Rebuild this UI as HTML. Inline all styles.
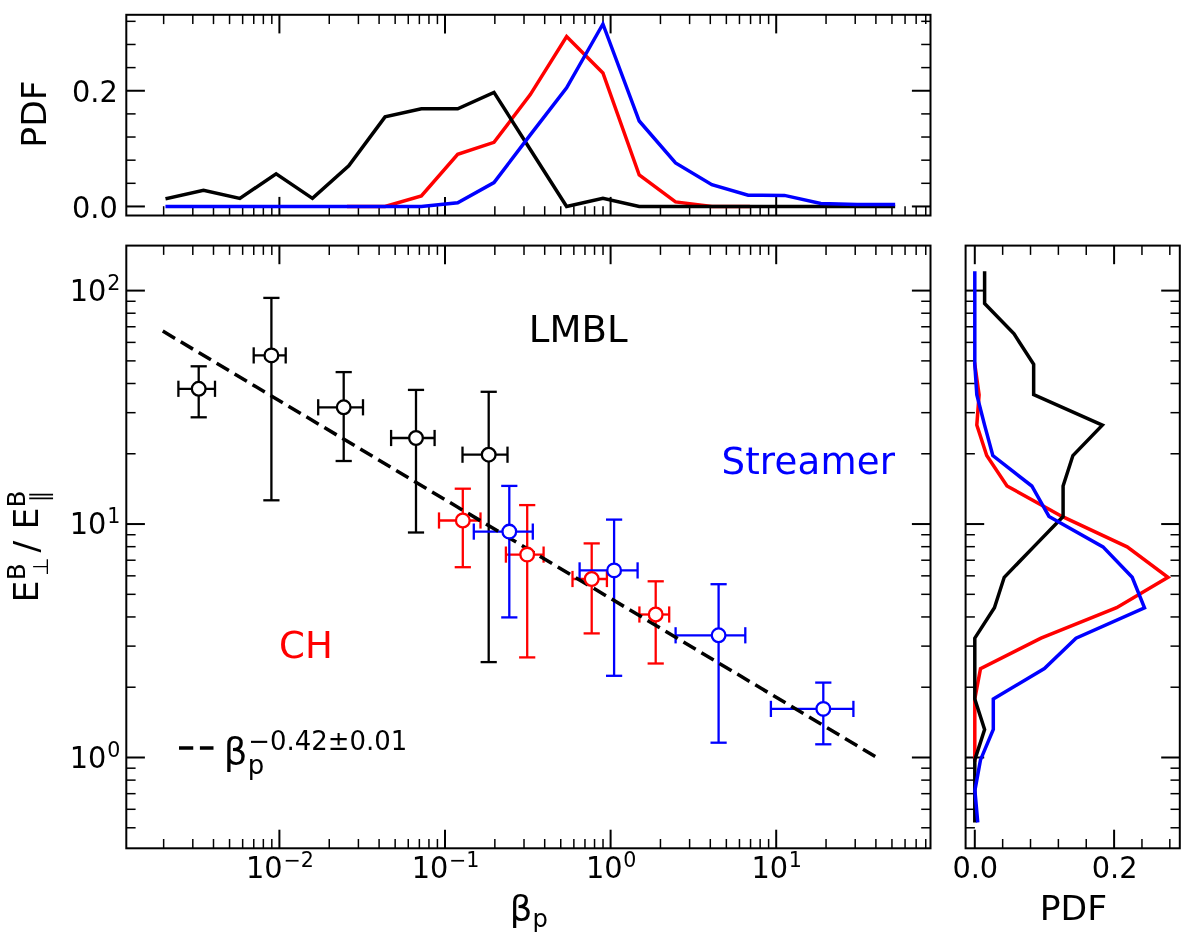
<!DOCTYPE html>
<html lang="en">
<head>
<meta charset="utf-8">
<title>Anisotropy versus plasma beta</title>
<style>
html,body{margin:0;padding:0;background:#fff;}
body{width:1195px;height:940px;overflow:hidden;}
svg{display:block;}
</style>
</head>
<body>
<svg width="1195" height="940" viewBox="0 0 1195 940" font-family='"DejaVu Sans", "Liberation Sans", sans-serif'>
<rect width="1195" height="940" fill="#fff"/>
<g id="top-panel">
<line x1="279.40" y1="215.50" x2="279.40" y2="196.90" stroke="#000" stroke-width="2.0"/>
<line x1="279.40" y1="14.80" x2="279.40" y2="33.40" stroke="#000" stroke-width="2.0"/>
<line x1="445.00" y1="215.50" x2="445.00" y2="196.90" stroke="#000" stroke-width="2.0"/>
<line x1="445.00" y1="14.80" x2="445.00" y2="33.40" stroke="#000" stroke-width="2.0"/>
<line x1="610.60" y1="215.50" x2="610.60" y2="196.90" stroke="#000" stroke-width="2.0"/>
<line x1="610.60" y1="14.80" x2="610.60" y2="33.40" stroke="#000" stroke-width="2.0"/>
<line x1="776.20" y1="215.50" x2="776.20" y2="196.90" stroke="#000" stroke-width="2.0"/>
<line x1="776.20" y1="14.80" x2="776.20" y2="33.40" stroke="#000" stroke-width="2.0"/>
<line x1="163.65" y1="215.50" x2="163.65" y2="206.20" stroke="#000" stroke-width="1.5"/>
<line x1="163.65" y1="14.80" x2="163.65" y2="24.10" stroke="#000" stroke-width="1.5"/>
<line x1="192.81" y1="215.50" x2="192.81" y2="206.20" stroke="#000" stroke-width="1.5"/>
<line x1="192.81" y1="14.80" x2="192.81" y2="24.10" stroke="#000" stroke-width="1.5"/>
<line x1="213.50" y1="215.50" x2="213.50" y2="206.20" stroke="#000" stroke-width="1.5"/>
<line x1="213.50" y1="14.80" x2="213.50" y2="24.10" stroke="#000" stroke-width="1.5"/>
<line x1="229.55" y1="215.50" x2="229.55" y2="206.20" stroke="#000" stroke-width="1.5"/>
<line x1="229.55" y1="14.80" x2="229.55" y2="24.10" stroke="#000" stroke-width="1.5"/>
<line x1="242.66" y1="215.50" x2="242.66" y2="206.20" stroke="#000" stroke-width="1.5"/>
<line x1="242.66" y1="14.80" x2="242.66" y2="24.10" stroke="#000" stroke-width="1.5"/>
<line x1="253.75" y1="215.50" x2="253.75" y2="206.20" stroke="#000" stroke-width="1.5"/>
<line x1="253.75" y1="14.80" x2="253.75" y2="24.10" stroke="#000" stroke-width="1.5"/>
<line x1="263.35" y1="215.50" x2="263.35" y2="206.20" stroke="#000" stroke-width="1.5"/>
<line x1="263.35" y1="14.80" x2="263.35" y2="24.10" stroke="#000" stroke-width="1.5"/>
<line x1="271.82" y1="215.50" x2="271.82" y2="206.20" stroke="#000" stroke-width="1.5"/>
<line x1="271.82" y1="14.80" x2="271.82" y2="24.10" stroke="#000" stroke-width="1.5"/>
<line x1="329.25" y1="215.50" x2="329.25" y2="206.20" stroke="#000" stroke-width="1.5"/>
<line x1="329.25" y1="14.80" x2="329.25" y2="24.10" stroke="#000" stroke-width="1.5"/>
<line x1="358.41" y1="215.50" x2="358.41" y2="206.20" stroke="#000" stroke-width="1.5"/>
<line x1="358.41" y1="14.80" x2="358.41" y2="24.10" stroke="#000" stroke-width="1.5"/>
<line x1="379.10" y1="215.50" x2="379.10" y2="206.20" stroke="#000" stroke-width="1.5"/>
<line x1="379.10" y1="14.80" x2="379.10" y2="24.10" stroke="#000" stroke-width="1.5"/>
<line x1="395.15" y1="215.50" x2="395.15" y2="206.20" stroke="#000" stroke-width="1.5"/>
<line x1="395.15" y1="14.80" x2="395.15" y2="24.10" stroke="#000" stroke-width="1.5"/>
<line x1="408.26" y1="215.50" x2="408.26" y2="206.20" stroke="#000" stroke-width="1.5"/>
<line x1="408.26" y1="14.80" x2="408.26" y2="24.10" stroke="#000" stroke-width="1.5"/>
<line x1="419.35" y1="215.50" x2="419.35" y2="206.20" stroke="#000" stroke-width="1.5"/>
<line x1="419.35" y1="14.80" x2="419.35" y2="24.10" stroke="#000" stroke-width="1.5"/>
<line x1="428.95" y1="215.50" x2="428.95" y2="206.20" stroke="#000" stroke-width="1.5"/>
<line x1="428.95" y1="14.80" x2="428.95" y2="24.10" stroke="#000" stroke-width="1.5"/>
<line x1="437.42" y1="215.50" x2="437.42" y2="206.20" stroke="#000" stroke-width="1.5"/>
<line x1="437.42" y1="14.80" x2="437.42" y2="24.10" stroke="#000" stroke-width="1.5"/>
<line x1="494.85" y1="215.50" x2="494.85" y2="206.20" stroke="#000" stroke-width="1.5"/>
<line x1="494.85" y1="14.80" x2="494.85" y2="24.10" stroke="#000" stroke-width="1.5"/>
<line x1="524.01" y1="215.50" x2="524.01" y2="206.20" stroke="#000" stroke-width="1.5"/>
<line x1="524.01" y1="14.80" x2="524.01" y2="24.10" stroke="#000" stroke-width="1.5"/>
<line x1="544.70" y1="215.50" x2="544.70" y2="206.20" stroke="#000" stroke-width="1.5"/>
<line x1="544.70" y1="14.80" x2="544.70" y2="24.10" stroke="#000" stroke-width="1.5"/>
<line x1="560.75" y1="215.50" x2="560.75" y2="206.20" stroke="#000" stroke-width="1.5"/>
<line x1="560.75" y1="14.80" x2="560.75" y2="24.10" stroke="#000" stroke-width="1.5"/>
<line x1="573.86" y1="215.50" x2="573.86" y2="206.20" stroke="#000" stroke-width="1.5"/>
<line x1="573.86" y1="14.80" x2="573.86" y2="24.10" stroke="#000" stroke-width="1.5"/>
<line x1="584.95" y1="215.50" x2="584.95" y2="206.20" stroke="#000" stroke-width="1.5"/>
<line x1="584.95" y1="14.80" x2="584.95" y2="24.10" stroke="#000" stroke-width="1.5"/>
<line x1="594.55" y1="215.50" x2="594.55" y2="206.20" stroke="#000" stroke-width="1.5"/>
<line x1="594.55" y1="14.80" x2="594.55" y2="24.10" stroke="#000" stroke-width="1.5"/>
<line x1="603.02" y1="215.50" x2="603.02" y2="206.20" stroke="#000" stroke-width="1.5"/>
<line x1="603.02" y1="14.80" x2="603.02" y2="24.10" stroke="#000" stroke-width="1.5"/>
<line x1="660.45" y1="215.50" x2="660.45" y2="206.20" stroke="#000" stroke-width="1.5"/>
<line x1="660.45" y1="14.80" x2="660.45" y2="24.10" stroke="#000" stroke-width="1.5"/>
<line x1="689.61" y1="215.50" x2="689.61" y2="206.20" stroke="#000" stroke-width="1.5"/>
<line x1="689.61" y1="14.80" x2="689.61" y2="24.10" stroke="#000" stroke-width="1.5"/>
<line x1="710.30" y1="215.50" x2="710.30" y2="206.20" stroke="#000" stroke-width="1.5"/>
<line x1="710.30" y1="14.80" x2="710.30" y2="24.10" stroke="#000" stroke-width="1.5"/>
<line x1="726.35" y1="215.50" x2="726.35" y2="206.20" stroke="#000" stroke-width="1.5"/>
<line x1="726.35" y1="14.80" x2="726.35" y2="24.10" stroke="#000" stroke-width="1.5"/>
<line x1="739.46" y1="215.50" x2="739.46" y2="206.20" stroke="#000" stroke-width="1.5"/>
<line x1="739.46" y1="14.80" x2="739.46" y2="24.10" stroke="#000" stroke-width="1.5"/>
<line x1="750.55" y1="215.50" x2="750.55" y2="206.20" stroke="#000" stroke-width="1.5"/>
<line x1="750.55" y1="14.80" x2="750.55" y2="24.10" stroke="#000" stroke-width="1.5"/>
<line x1="760.15" y1="215.50" x2="760.15" y2="206.20" stroke="#000" stroke-width="1.5"/>
<line x1="760.15" y1="14.80" x2="760.15" y2="24.10" stroke="#000" stroke-width="1.5"/>
<line x1="768.62" y1="215.50" x2="768.62" y2="206.20" stroke="#000" stroke-width="1.5"/>
<line x1="768.62" y1="14.80" x2="768.62" y2="24.10" stroke="#000" stroke-width="1.5"/>
<line x1="826.05" y1="215.50" x2="826.05" y2="206.20" stroke="#000" stroke-width="1.5"/>
<line x1="826.05" y1="14.80" x2="826.05" y2="24.10" stroke="#000" stroke-width="1.5"/>
<line x1="855.21" y1="215.50" x2="855.21" y2="206.20" stroke="#000" stroke-width="1.5"/>
<line x1="855.21" y1="14.80" x2="855.21" y2="24.10" stroke="#000" stroke-width="1.5"/>
<line x1="875.90" y1="215.50" x2="875.90" y2="206.20" stroke="#000" stroke-width="1.5"/>
<line x1="875.90" y1="14.80" x2="875.90" y2="24.10" stroke="#000" stroke-width="1.5"/>
<line x1="891.95" y1="215.50" x2="891.95" y2="206.20" stroke="#000" stroke-width="1.5"/>
<line x1="891.95" y1="14.80" x2="891.95" y2="24.10" stroke="#000" stroke-width="1.5"/>
<line x1="905.06" y1="215.50" x2="905.06" y2="206.20" stroke="#000" stroke-width="1.5"/>
<line x1="905.06" y1="14.80" x2="905.06" y2="24.10" stroke="#000" stroke-width="1.5"/>
<line x1="916.15" y1="215.50" x2="916.15" y2="206.20" stroke="#000" stroke-width="1.5"/>
<line x1="916.15" y1="14.80" x2="916.15" y2="24.10" stroke="#000" stroke-width="1.5"/>
<line x1="925.75" y1="215.50" x2="925.75" y2="206.20" stroke="#000" stroke-width="1.5"/>
<line x1="925.75" y1="14.80" x2="925.75" y2="24.10" stroke="#000" stroke-width="1.5"/>
<line x1="126.30" y1="206.45" x2="144.90" y2="206.45" stroke="#000" stroke-width="2.0"/>
<line x1="930.50" y1="206.45" x2="911.90" y2="206.45" stroke="#000" stroke-width="2.0"/>
<line x1="126.30" y1="90.75" x2="144.90" y2="90.75" stroke="#000" stroke-width="2.0"/>
<line x1="930.50" y1="90.75" x2="911.90" y2="90.75" stroke="#000" stroke-width="2.0"/>
<line x1="126.30" y1="183.31" x2="135.60" y2="183.31" stroke="#000" stroke-width="1.5"/>
<line x1="930.50" y1="183.31" x2="921.20" y2="183.31" stroke="#000" stroke-width="1.5"/>
<line x1="126.30" y1="160.17" x2="135.60" y2="160.17" stroke="#000" stroke-width="1.5"/>
<line x1="930.50" y1="160.17" x2="921.20" y2="160.17" stroke="#000" stroke-width="1.5"/>
<line x1="126.30" y1="137.03" x2="135.60" y2="137.03" stroke="#000" stroke-width="1.5"/>
<line x1="930.50" y1="137.03" x2="921.20" y2="137.03" stroke="#000" stroke-width="1.5"/>
<line x1="126.30" y1="113.89" x2="135.60" y2="113.89" stroke="#000" stroke-width="1.5"/>
<line x1="930.50" y1="113.89" x2="921.20" y2="113.89" stroke="#000" stroke-width="1.5"/>
<line x1="126.30" y1="67.61" x2="135.60" y2="67.61" stroke="#000" stroke-width="1.5"/>
<line x1="930.50" y1="67.61" x2="921.20" y2="67.61" stroke="#000" stroke-width="1.5"/>
<line x1="126.30" y1="44.47" x2="135.60" y2="44.47" stroke="#000" stroke-width="1.5"/>
<line x1="930.50" y1="44.47" x2="921.20" y2="44.47" stroke="#000" stroke-width="1.5"/>
<line x1="126.30" y1="21.33" x2="135.60" y2="21.33" stroke="#000" stroke-width="1.5"/>
<line x1="930.50" y1="21.33" x2="921.20" y2="21.33" stroke="#000" stroke-width="1.5"/>
<polyline points="348.75,206.50 385.06,206.50 421.37,195.90 457.68,154.30 493.99,142.30 530.30,94.60 566.61,36.60 602.92,73.00 639.23,175.00 675.54,201.90 711.85,206.50 748.16,206.50" fill="none" stroke="#ff0000" stroke-width="3.5" stroke-linejoin="miter" stroke-miterlimit="10" stroke-linecap="square"/>
<polyline points="167.20,198.35 203.51,190.20 239.82,198.35 276.13,173.91 312.44,198.35 348.75,165.76 385.06,116.87 421.37,108.73 457.68,108.73 493.99,92.43 530.30,149.46 566.61,206.50 602.92,198.35 639.23,206.50 675.54,206.50 711.85,206.50 748.16,206.50 784.47,206.50 820.78,206.50 857.09,206.50 893.40,206.50" fill="none" stroke="#000000" stroke-width="3.5" stroke-linejoin="miter" stroke-miterlimit="10" stroke-linecap="square"/>
<polyline points="167.20,206.50 203.51,206.50 239.82,206.50 276.13,206.50 312.44,206.50 348.75,206.50 385.06,206.50 421.37,206.50 457.68,202.80 493.99,182.60 530.30,134.90 566.61,87.80 602.92,24.00 639.23,121.00 675.54,162.90 711.85,184.70 748.16,195.30 784.47,195.40 820.78,203.40 857.09,204.60 893.40,204.60" fill="none" stroke="#0000ff" stroke-width="3.5" stroke-linejoin="miter" stroke-miterlimit="10" stroke-linecap="square"/>
<rect x="126.30" y="14.80" width="804.20" height="200.70" fill="none" stroke="#000" stroke-width="2.0"/>
</g>
<g id="right-panel">
<line x1="974.80" y1="848.30" x2="974.80" y2="829.70" stroke="#000" stroke-width="2.0"/>
<line x1="974.80" y1="245.60" x2="974.80" y2="264.20" stroke="#000" stroke-width="2.0"/>
<line x1="1114.10" y1="848.30" x2="1114.10" y2="829.70" stroke="#000" stroke-width="2.0"/>
<line x1="1114.10" y1="245.60" x2="1114.10" y2="264.20" stroke="#000" stroke-width="2.0"/>
<line x1="1002.66" y1="848.30" x2="1002.66" y2="839.00" stroke="#000" stroke-width="1.5"/>
<line x1="1002.66" y1="245.60" x2="1002.66" y2="254.90" stroke="#000" stroke-width="1.5"/>
<line x1="1030.52" y1="848.30" x2="1030.52" y2="839.00" stroke="#000" stroke-width="1.5"/>
<line x1="1030.52" y1="245.60" x2="1030.52" y2="254.90" stroke="#000" stroke-width="1.5"/>
<line x1="1058.38" y1="848.30" x2="1058.38" y2="839.00" stroke="#000" stroke-width="1.5"/>
<line x1="1058.38" y1="245.60" x2="1058.38" y2="254.90" stroke="#000" stroke-width="1.5"/>
<line x1="1086.24" y1="848.30" x2="1086.24" y2="839.00" stroke="#000" stroke-width="1.5"/>
<line x1="1086.24" y1="245.60" x2="1086.24" y2="254.90" stroke="#000" stroke-width="1.5"/>
<line x1="1141.96" y1="848.30" x2="1141.96" y2="839.00" stroke="#000" stroke-width="1.5"/>
<line x1="1141.96" y1="245.60" x2="1141.96" y2="254.90" stroke="#000" stroke-width="1.5"/>
<line x1="1169.82" y1="848.30" x2="1169.82" y2="839.00" stroke="#000" stroke-width="1.5"/>
<line x1="1169.82" y1="245.60" x2="1169.82" y2="254.90" stroke="#000" stroke-width="1.5"/>
<line x1="965.60" y1="757.50" x2="984.20" y2="757.50" stroke="#000" stroke-width="2.0"/>
<line x1="1179.80" y1="757.50" x2="1161.20" y2="757.50" stroke="#000" stroke-width="2.0"/>
<line x1="965.60" y1="524.05" x2="984.20" y2="524.05" stroke="#000" stroke-width="2.0"/>
<line x1="1179.80" y1="524.05" x2="1161.20" y2="524.05" stroke="#000" stroke-width="2.0"/>
<line x1="965.60" y1="290.60" x2="984.20" y2="290.60" stroke="#000" stroke-width="2.0"/>
<line x1="1179.80" y1="290.60" x2="1161.20" y2="290.60" stroke="#000" stroke-width="2.0"/>
<line x1="965.60" y1="827.78" x2="974.90" y2="827.78" stroke="#000" stroke-width="1.5"/>
<line x1="1179.80" y1="827.78" x2="1170.50" y2="827.78" stroke="#000" stroke-width="1.5"/>
<line x1="965.60" y1="809.29" x2="974.90" y2="809.29" stroke="#000" stroke-width="1.5"/>
<line x1="1179.80" y1="809.29" x2="1170.50" y2="809.29" stroke="#000" stroke-width="1.5"/>
<line x1="965.60" y1="793.66" x2="974.90" y2="793.66" stroke="#000" stroke-width="1.5"/>
<line x1="1179.80" y1="793.66" x2="1170.50" y2="793.66" stroke="#000" stroke-width="1.5"/>
<line x1="965.60" y1="780.12" x2="974.90" y2="780.12" stroke="#000" stroke-width="1.5"/>
<line x1="1179.80" y1="780.12" x2="1170.50" y2="780.12" stroke="#000" stroke-width="1.5"/>
<line x1="965.60" y1="768.18" x2="974.90" y2="768.18" stroke="#000" stroke-width="1.5"/>
<line x1="1179.80" y1="768.18" x2="1170.50" y2="768.18" stroke="#000" stroke-width="1.5"/>
<line x1="965.60" y1="687.22" x2="974.90" y2="687.22" stroke="#000" stroke-width="1.5"/>
<line x1="1179.80" y1="687.22" x2="1170.50" y2="687.22" stroke="#000" stroke-width="1.5"/>
<line x1="965.60" y1="646.12" x2="974.90" y2="646.12" stroke="#000" stroke-width="1.5"/>
<line x1="1179.80" y1="646.12" x2="1170.50" y2="646.12" stroke="#000" stroke-width="1.5"/>
<line x1="965.60" y1="616.95" x2="974.90" y2="616.95" stroke="#000" stroke-width="1.5"/>
<line x1="1179.80" y1="616.95" x2="1170.50" y2="616.95" stroke="#000" stroke-width="1.5"/>
<line x1="965.60" y1="594.33" x2="974.90" y2="594.33" stroke="#000" stroke-width="1.5"/>
<line x1="1179.80" y1="594.33" x2="1170.50" y2="594.33" stroke="#000" stroke-width="1.5"/>
<line x1="965.60" y1="575.84" x2="974.90" y2="575.84" stroke="#000" stroke-width="1.5"/>
<line x1="1179.80" y1="575.84" x2="1170.50" y2="575.84" stroke="#000" stroke-width="1.5"/>
<line x1="965.60" y1="560.21" x2="974.90" y2="560.21" stroke="#000" stroke-width="1.5"/>
<line x1="1179.80" y1="560.21" x2="1170.50" y2="560.21" stroke="#000" stroke-width="1.5"/>
<line x1="965.60" y1="546.67" x2="974.90" y2="546.67" stroke="#000" stroke-width="1.5"/>
<line x1="1179.80" y1="546.67" x2="1170.50" y2="546.67" stroke="#000" stroke-width="1.5"/>
<line x1="965.60" y1="534.73" x2="974.90" y2="534.73" stroke="#000" stroke-width="1.5"/>
<line x1="1179.80" y1="534.73" x2="1170.50" y2="534.73" stroke="#000" stroke-width="1.5"/>
<line x1="965.60" y1="453.77" x2="974.90" y2="453.77" stroke="#000" stroke-width="1.5"/>
<line x1="1179.80" y1="453.77" x2="1170.50" y2="453.77" stroke="#000" stroke-width="1.5"/>
<line x1="965.60" y1="412.67" x2="974.90" y2="412.67" stroke="#000" stroke-width="1.5"/>
<line x1="1179.80" y1="412.67" x2="1170.50" y2="412.67" stroke="#000" stroke-width="1.5"/>
<line x1="965.60" y1="383.50" x2="974.90" y2="383.50" stroke="#000" stroke-width="1.5"/>
<line x1="1179.80" y1="383.50" x2="1170.50" y2="383.50" stroke="#000" stroke-width="1.5"/>
<line x1="965.60" y1="360.88" x2="974.90" y2="360.88" stroke="#000" stroke-width="1.5"/>
<line x1="1179.80" y1="360.88" x2="1170.50" y2="360.88" stroke="#000" stroke-width="1.5"/>
<line x1="965.60" y1="342.39" x2="974.90" y2="342.39" stroke="#000" stroke-width="1.5"/>
<line x1="1179.80" y1="342.39" x2="1170.50" y2="342.39" stroke="#000" stroke-width="1.5"/>
<line x1="965.60" y1="326.76" x2="974.90" y2="326.76" stroke="#000" stroke-width="1.5"/>
<line x1="1179.80" y1="326.76" x2="1170.50" y2="326.76" stroke="#000" stroke-width="1.5"/>
<line x1="965.60" y1="313.22" x2="974.90" y2="313.22" stroke="#000" stroke-width="1.5"/>
<line x1="1179.80" y1="313.22" x2="1170.50" y2="313.22" stroke="#000" stroke-width="1.5"/>
<line x1="965.60" y1="301.28" x2="974.90" y2="301.28" stroke="#000" stroke-width="1.5"/>
<line x1="1179.80" y1="301.28" x2="1170.50" y2="301.28" stroke="#000" stroke-width="1.5"/>
<polyline points="974.80,364.29 979.10,394.72 976.80,425.15 986.70,455.58 1007.00,486.01 1062.00,516.44 1127.10,546.87 1168.00,577.30 1116.60,607.73 1041.00,638.16 980.50,668.59 974.80,699.02 974.80,729.45 974.80,759.88" fill="none" stroke="#ff0000" stroke-width="3.5" stroke-linejoin="miter" stroke-miterlimit="10" stroke-linecap="square"/>
<polyline points="984.61,273.00 984.61,303.43 1014.04,333.86 1033.66,364.29 1033.66,394.72 1102.33,425.15 1072.90,455.58 1063.09,486.01 1063.09,516.44 1033.66,546.87 1004.23,577.30 994.42,607.73 974.80,638.16 974.80,668.59 974.80,699.02 984.61,729.45 974.80,759.88 974.80,790.31 974.80,820.74" fill="none" stroke="#000000" stroke-width="3.5" stroke-linejoin="miter" stroke-miterlimit="10" stroke-linecap="square"/>
<polyline points="974.80,273.00 974.80,303.43 974.80,333.86 974.80,364.29 976.80,394.72 984.60,425.15 992.80,455.58 1031.80,486.01 1049.00,516.44 1103.00,546.87 1132.20,577.30 1144.50,607.73 1076.00,638.16 1044.40,668.59 993.30,699.02 993.30,729.45 980.50,759.88 974.90,790.31 977.60,820.74" fill="none" stroke="#0000ff" stroke-width="3.5" stroke-linejoin="miter" stroke-miterlimit="10" stroke-linecap="square"/>
<rect x="965.60" y="245.60" width="214.20" height="602.70" fill="none" stroke="#000" stroke-width="2.0"/>
</g>
<g id="main-panel">
<line x1="439.00" y1="520.50" x2="480.50" y2="520.50" stroke="#ff0000" stroke-width="2.3"/>
<line x1="462.80" y1="488.70" x2="462.80" y2="567.20" stroke="#ff0000" stroke-width="2.3"/>
<line x1="505.90" y1="554.60" x2="543.60" y2="554.60" stroke="#ff0000" stroke-width="2.3"/>
<line x1="527.20" y1="505.10" x2="527.20" y2="657.40" stroke="#ff0000" stroke-width="2.3"/>
<line x1="572.50" y1="579.00" x2="606.90" y2="579.00" stroke="#ff0000" stroke-width="2.3"/>
<line x1="591.70" y1="543.40" x2="591.70" y2="633.40" stroke="#ff0000" stroke-width="2.3"/>
<line x1="639.40" y1="614.50" x2="669.20" y2="614.50" stroke="#ff0000" stroke-width="2.3"/>
<line x1="655.70" y1="581.30" x2="655.70" y2="663.50" stroke="#ff0000" stroke-width="2.3"/>
<line x1="178.40" y1="388.80" x2="215.00" y2="388.80" stroke="#000000" stroke-width="2.3"/>
<line x1="198.70" y1="366.30" x2="198.70" y2="417.30" stroke="#000000" stroke-width="2.3"/>
<line x1="253.70" y1="355.40" x2="285.70" y2="355.40" stroke="#000000" stroke-width="2.3"/>
<line x1="271.40" y1="297.90" x2="271.40" y2="500.30" stroke="#000000" stroke-width="2.3"/>
<line x1="318.20" y1="407.30" x2="363.00" y2="407.30" stroke="#000000" stroke-width="2.3"/>
<line x1="343.70" y1="372.10" x2="343.70" y2="461.00" stroke="#000000" stroke-width="2.3"/>
<line x1="391.10" y1="438.00" x2="434.60" y2="438.00" stroke="#000000" stroke-width="2.3"/>
<line x1="416.00" y1="389.90" x2="416.00" y2="532.50" stroke="#000000" stroke-width="2.3"/>
<line x1="462.50" y1="454.70" x2="507.50" y2="454.70" stroke="#000000" stroke-width="2.3"/>
<line x1="488.70" y1="391.80" x2="488.70" y2="662.10" stroke="#000000" stroke-width="2.3"/>
<line x1="473.80" y1="531.60" x2="532.80" y2="531.60" stroke="#0000ff" stroke-width="2.3"/>
<line x1="509.30" y1="485.90" x2="509.30" y2="617.40" stroke="#0000ff" stroke-width="2.3"/>
<line x1="579.60" y1="570.40" x2="637.60" y2="570.40" stroke="#0000ff" stroke-width="2.3"/>
<line x1="614.10" y1="519.60" x2="614.10" y2="675.80" stroke="#0000ff" stroke-width="2.3"/>
<line x1="675.60" y1="635.30" x2="745.30" y2="635.30" stroke="#0000ff" stroke-width="2.3"/>
<line x1="718.60" y1="584.20" x2="718.60" y2="742.70" stroke="#0000ff" stroke-width="2.3"/>
<line x1="770.90" y1="708.90" x2="853.40" y2="708.90" stroke="#0000ff" stroke-width="2.3"/>
<line x1="823.30" y1="682.60" x2="823.30" y2="744.30" stroke="#0000ff" stroke-width="2.3"/>
<line x1="439.00" y1="512.40" x2="439.00" y2="528.60" stroke="#ff0000" stroke-width="2.3"/>
<line x1="480.50" y1="512.40" x2="480.50" y2="528.60" stroke="#ff0000" stroke-width="2.3"/>
<line x1="454.70" y1="488.70" x2="470.90" y2="488.70" stroke="#ff0000" stroke-width="2.3"/>
<line x1="454.70" y1="567.20" x2="470.90" y2="567.20" stroke="#ff0000" stroke-width="2.3"/>
<line x1="505.90" y1="546.50" x2="505.90" y2="562.70" stroke="#ff0000" stroke-width="2.3"/>
<line x1="543.60" y1="546.50" x2="543.60" y2="562.70" stroke="#ff0000" stroke-width="2.3"/>
<line x1="519.10" y1="505.10" x2="535.30" y2="505.10" stroke="#ff0000" stroke-width="2.3"/>
<line x1="519.10" y1="657.40" x2="535.30" y2="657.40" stroke="#ff0000" stroke-width="2.3"/>
<line x1="572.50" y1="570.90" x2="572.50" y2="587.10" stroke="#ff0000" stroke-width="2.3"/>
<line x1="606.90" y1="570.90" x2="606.90" y2="587.10" stroke="#ff0000" stroke-width="2.3"/>
<line x1="583.60" y1="543.40" x2="599.80" y2="543.40" stroke="#ff0000" stroke-width="2.3"/>
<line x1="583.60" y1="633.40" x2="599.80" y2="633.40" stroke="#ff0000" stroke-width="2.3"/>
<line x1="639.40" y1="606.40" x2="639.40" y2="622.60" stroke="#ff0000" stroke-width="2.3"/>
<line x1="669.20" y1="606.40" x2="669.20" y2="622.60" stroke="#ff0000" stroke-width="2.3"/>
<line x1="647.60" y1="581.30" x2="663.80" y2="581.30" stroke="#ff0000" stroke-width="2.3"/>
<line x1="647.60" y1="663.50" x2="663.80" y2="663.50" stroke="#ff0000" stroke-width="2.3"/>
<line x1="178.40" y1="380.70" x2="178.40" y2="396.90" stroke="#000000" stroke-width="2.3"/>
<line x1="215.00" y1="380.70" x2="215.00" y2="396.90" stroke="#000000" stroke-width="2.3"/>
<line x1="190.60" y1="366.30" x2="206.80" y2="366.30" stroke="#000000" stroke-width="2.3"/>
<line x1="190.60" y1="417.30" x2="206.80" y2="417.30" stroke="#000000" stroke-width="2.3"/>
<line x1="253.70" y1="347.30" x2="253.70" y2="363.50" stroke="#000000" stroke-width="2.3"/>
<line x1="285.70" y1="347.30" x2="285.70" y2="363.50" stroke="#000000" stroke-width="2.3"/>
<line x1="263.30" y1="297.90" x2="279.50" y2="297.90" stroke="#000000" stroke-width="2.3"/>
<line x1="263.30" y1="500.30" x2="279.50" y2="500.30" stroke="#000000" stroke-width="2.3"/>
<line x1="318.20" y1="399.20" x2="318.20" y2="415.40" stroke="#000000" stroke-width="2.3"/>
<line x1="363.00" y1="399.20" x2="363.00" y2="415.40" stroke="#000000" stroke-width="2.3"/>
<line x1="335.60" y1="372.10" x2="351.80" y2="372.10" stroke="#000000" stroke-width="2.3"/>
<line x1="335.60" y1="461.00" x2="351.80" y2="461.00" stroke="#000000" stroke-width="2.3"/>
<line x1="391.10" y1="429.90" x2="391.10" y2="446.10" stroke="#000000" stroke-width="2.3"/>
<line x1="434.60" y1="429.90" x2="434.60" y2="446.10" stroke="#000000" stroke-width="2.3"/>
<line x1="407.90" y1="389.90" x2="424.10" y2="389.90" stroke="#000000" stroke-width="2.3"/>
<line x1="407.90" y1="532.50" x2="424.10" y2="532.50" stroke="#000000" stroke-width="2.3"/>
<line x1="462.50" y1="446.60" x2="462.50" y2="462.80" stroke="#000000" stroke-width="2.3"/>
<line x1="507.50" y1="446.60" x2="507.50" y2="462.80" stroke="#000000" stroke-width="2.3"/>
<line x1="480.60" y1="391.80" x2="496.80" y2="391.80" stroke="#000000" stroke-width="2.3"/>
<line x1="480.60" y1="662.10" x2="496.80" y2="662.10" stroke="#000000" stroke-width="2.3"/>
<line x1="473.80" y1="523.50" x2="473.80" y2="539.70" stroke="#0000ff" stroke-width="2.3"/>
<line x1="532.80" y1="523.50" x2="532.80" y2="539.70" stroke="#0000ff" stroke-width="2.3"/>
<line x1="501.20" y1="485.90" x2="517.40" y2="485.90" stroke="#0000ff" stroke-width="2.3"/>
<line x1="501.20" y1="617.40" x2="517.40" y2="617.40" stroke="#0000ff" stroke-width="2.3"/>
<line x1="579.60" y1="562.30" x2="579.60" y2="578.50" stroke="#0000ff" stroke-width="2.3"/>
<line x1="637.60" y1="562.30" x2="637.60" y2="578.50" stroke="#0000ff" stroke-width="2.3"/>
<line x1="606.00" y1="519.60" x2="622.20" y2="519.60" stroke="#0000ff" stroke-width="2.3"/>
<line x1="606.00" y1="675.80" x2="622.20" y2="675.80" stroke="#0000ff" stroke-width="2.3"/>
<line x1="675.60" y1="627.20" x2="675.60" y2="643.40" stroke="#0000ff" stroke-width="2.3"/>
<line x1="745.30" y1="627.20" x2="745.30" y2="643.40" stroke="#0000ff" stroke-width="2.3"/>
<line x1="710.50" y1="584.20" x2="726.70" y2="584.20" stroke="#0000ff" stroke-width="2.3"/>
<line x1="710.50" y1="742.70" x2="726.70" y2="742.70" stroke="#0000ff" stroke-width="2.3"/>
<line x1="770.90" y1="700.80" x2="770.90" y2="717.00" stroke="#0000ff" stroke-width="2.3"/>
<line x1="853.40" y1="700.80" x2="853.40" y2="717.00" stroke="#0000ff" stroke-width="2.3"/>
<line x1="815.20" y1="682.60" x2="831.40" y2="682.60" stroke="#0000ff" stroke-width="2.3"/>
<line x1="815.20" y1="744.30" x2="831.40" y2="744.30" stroke="#0000ff" stroke-width="2.3"/>
<line x1="162.8" y1="331.1" x2="875.5" y2="756.6" stroke="#000" stroke-width="3.5" stroke-dasharray="14.25 6.66"/>
<circle cx="462.8" cy="520.5" r="6.85" fill="#fff" stroke="#ff0000" stroke-width="2.3"/>
<circle cx="527.2" cy="554.6" r="6.85" fill="#fff" stroke="#ff0000" stroke-width="2.3"/>
<circle cx="591.7" cy="579.0" r="6.85" fill="#fff" stroke="#ff0000" stroke-width="2.3"/>
<circle cx="655.7" cy="614.5" r="6.85" fill="#fff" stroke="#ff0000" stroke-width="2.3"/>
<circle cx="198.7" cy="388.8" r="6.85" fill="#fff" stroke="#000000" stroke-width="2.3"/>
<circle cx="271.4" cy="355.4" r="6.85" fill="#fff" stroke="#000000" stroke-width="2.3"/>
<circle cx="343.7" cy="407.3" r="6.85" fill="#fff" stroke="#000000" stroke-width="2.3"/>
<circle cx="416.0" cy="438.0" r="6.85" fill="#fff" stroke="#000000" stroke-width="2.3"/>
<circle cx="488.7" cy="454.7" r="6.85" fill="#fff" stroke="#000000" stroke-width="2.3"/>
<circle cx="509.3" cy="531.6" r="6.85" fill="#fff" stroke="#0000ff" stroke-width="2.3"/>
<circle cx="614.1" cy="570.4" r="6.85" fill="#fff" stroke="#0000ff" stroke-width="2.3"/>
<circle cx="718.6" cy="635.3" r="6.85" fill="#fff" stroke="#0000ff" stroke-width="2.3"/>
<circle cx="823.3" cy="708.9" r="6.85" fill="#fff" stroke="#0000ff" stroke-width="2.3"/>
<line x1="279.40" y1="848.30" x2="279.40" y2="829.70" stroke="#000" stroke-width="2.0"/>
<line x1="279.40" y1="245.60" x2="279.40" y2="264.20" stroke="#000" stroke-width="2.0"/>
<line x1="445.00" y1="848.30" x2="445.00" y2="829.70" stroke="#000" stroke-width="2.0"/>
<line x1="445.00" y1="245.60" x2="445.00" y2="264.20" stroke="#000" stroke-width="2.0"/>
<line x1="610.60" y1="848.30" x2="610.60" y2="829.70" stroke="#000" stroke-width="2.0"/>
<line x1="610.60" y1="245.60" x2="610.60" y2="264.20" stroke="#000" stroke-width="2.0"/>
<line x1="776.20" y1="848.30" x2="776.20" y2="829.70" stroke="#000" stroke-width="2.0"/>
<line x1="776.20" y1="245.60" x2="776.20" y2="264.20" stroke="#000" stroke-width="2.0"/>
<line x1="163.65" y1="848.30" x2="163.65" y2="839.00" stroke="#000" stroke-width="1.5"/>
<line x1="163.65" y1="245.60" x2="163.65" y2="254.90" stroke="#000" stroke-width="1.5"/>
<line x1="192.81" y1="848.30" x2="192.81" y2="839.00" stroke="#000" stroke-width="1.5"/>
<line x1="192.81" y1="245.60" x2="192.81" y2="254.90" stroke="#000" stroke-width="1.5"/>
<line x1="213.50" y1="848.30" x2="213.50" y2="839.00" stroke="#000" stroke-width="1.5"/>
<line x1="213.50" y1="245.60" x2="213.50" y2="254.90" stroke="#000" stroke-width="1.5"/>
<line x1="229.55" y1="848.30" x2="229.55" y2="839.00" stroke="#000" stroke-width="1.5"/>
<line x1="229.55" y1="245.60" x2="229.55" y2="254.90" stroke="#000" stroke-width="1.5"/>
<line x1="242.66" y1="848.30" x2="242.66" y2="839.00" stroke="#000" stroke-width="1.5"/>
<line x1="242.66" y1="245.60" x2="242.66" y2="254.90" stroke="#000" stroke-width="1.5"/>
<line x1="253.75" y1="848.30" x2="253.75" y2="839.00" stroke="#000" stroke-width="1.5"/>
<line x1="253.75" y1="245.60" x2="253.75" y2="254.90" stroke="#000" stroke-width="1.5"/>
<line x1="263.35" y1="848.30" x2="263.35" y2="839.00" stroke="#000" stroke-width="1.5"/>
<line x1="263.35" y1="245.60" x2="263.35" y2="254.90" stroke="#000" stroke-width="1.5"/>
<line x1="271.82" y1="848.30" x2="271.82" y2="839.00" stroke="#000" stroke-width="1.5"/>
<line x1="271.82" y1="245.60" x2="271.82" y2="254.90" stroke="#000" stroke-width="1.5"/>
<line x1="329.25" y1="848.30" x2="329.25" y2="839.00" stroke="#000" stroke-width="1.5"/>
<line x1="329.25" y1="245.60" x2="329.25" y2="254.90" stroke="#000" stroke-width="1.5"/>
<line x1="358.41" y1="848.30" x2="358.41" y2="839.00" stroke="#000" stroke-width="1.5"/>
<line x1="358.41" y1="245.60" x2="358.41" y2="254.90" stroke="#000" stroke-width="1.5"/>
<line x1="379.10" y1="848.30" x2="379.10" y2="839.00" stroke="#000" stroke-width="1.5"/>
<line x1="379.10" y1="245.60" x2="379.10" y2="254.90" stroke="#000" stroke-width="1.5"/>
<line x1="395.15" y1="848.30" x2="395.15" y2="839.00" stroke="#000" stroke-width="1.5"/>
<line x1="395.15" y1="245.60" x2="395.15" y2="254.90" stroke="#000" stroke-width="1.5"/>
<line x1="408.26" y1="848.30" x2="408.26" y2="839.00" stroke="#000" stroke-width="1.5"/>
<line x1="408.26" y1="245.60" x2="408.26" y2="254.90" stroke="#000" stroke-width="1.5"/>
<line x1="419.35" y1="848.30" x2="419.35" y2="839.00" stroke="#000" stroke-width="1.5"/>
<line x1="419.35" y1="245.60" x2="419.35" y2="254.90" stroke="#000" stroke-width="1.5"/>
<line x1="428.95" y1="848.30" x2="428.95" y2="839.00" stroke="#000" stroke-width="1.5"/>
<line x1="428.95" y1="245.60" x2="428.95" y2="254.90" stroke="#000" stroke-width="1.5"/>
<line x1="437.42" y1="848.30" x2="437.42" y2="839.00" stroke="#000" stroke-width="1.5"/>
<line x1="437.42" y1="245.60" x2="437.42" y2="254.90" stroke="#000" stroke-width="1.5"/>
<line x1="494.85" y1="848.30" x2="494.85" y2="839.00" stroke="#000" stroke-width="1.5"/>
<line x1="494.85" y1="245.60" x2="494.85" y2="254.90" stroke="#000" stroke-width="1.5"/>
<line x1="524.01" y1="848.30" x2="524.01" y2="839.00" stroke="#000" stroke-width="1.5"/>
<line x1="524.01" y1="245.60" x2="524.01" y2="254.90" stroke="#000" stroke-width="1.5"/>
<line x1="544.70" y1="848.30" x2="544.70" y2="839.00" stroke="#000" stroke-width="1.5"/>
<line x1="544.70" y1="245.60" x2="544.70" y2="254.90" stroke="#000" stroke-width="1.5"/>
<line x1="560.75" y1="848.30" x2="560.75" y2="839.00" stroke="#000" stroke-width="1.5"/>
<line x1="560.75" y1="245.60" x2="560.75" y2="254.90" stroke="#000" stroke-width="1.5"/>
<line x1="573.86" y1="848.30" x2="573.86" y2="839.00" stroke="#000" stroke-width="1.5"/>
<line x1="573.86" y1="245.60" x2="573.86" y2="254.90" stroke="#000" stroke-width="1.5"/>
<line x1="584.95" y1="848.30" x2="584.95" y2="839.00" stroke="#000" stroke-width="1.5"/>
<line x1="584.95" y1="245.60" x2="584.95" y2="254.90" stroke="#000" stroke-width="1.5"/>
<line x1="594.55" y1="848.30" x2="594.55" y2="839.00" stroke="#000" stroke-width="1.5"/>
<line x1="594.55" y1="245.60" x2="594.55" y2="254.90" stroke="#000" stroke-width="1.5"/>
<line x1="603.02" y1="848.30" x2="603.02" y2="839.00" stroke="#000" stroke-width="1.5"/>
<line x1="603.02" y1="245.60" x2="603.02" y2="254.90" stroke="#000" stroke-width="1.5"/>
<line x1="660.45" y1="848.30" x2="660.45" y2="839.00" stroke="#000" stroke-width="1.5"/>
<line x1="660.45" y1="245.60" x2="660.45" y2="254.90" stroke="#000" stroke-width="1.5"/>
<line x1="689.61" y1="848.30" x2="689.61" y2="839.00" stroke="#000" stroke-width="1.5"/>
<line x1="689.61" y1="245.60" x2="689.61" y2="254.90" stroke="#000" stroke-width="1.5"/>
<line x1="710.30" y1="848.30" x2="710.30" y2="839.00" stroke="#000" stroke-width="1.5"/>
<line x1="710.30" y1="245.60" x2="710.30" y2="254.90" stroke="#000" stroke-width="1.5"/>
<line x1="726.35" y1="848.30" x2="726.35" y2="839.00" stroke="#000" stroke-width="1.5"/>
<line x1="726.35" y1="245.60" x2="726.35" y2="254.90" stroke="#000" stroke-width="1.5"/>
<line x1="739.46" y1="848.30" x2="739.46" y2="839.00" stroke="#000" stroke-width="1.5"/>
<line x1="739.46" y1="245.60" x2="739.46" y2="254.90" stroke="#000" stroke-width="1.5"/>
<line x1="750.55" y1="848.30" x2="750.55" y2="839.00" stroke="#000" stroke-width="1.5"/>
<line x1="750.55" y1="245.60" x2="750.55" y2="254.90" stroke="#000" stroke-width="1.5"/>
<line x1="760.15" y1="848.30" x2="760.15" y2="839.00" stroke="#000" stroke-width="1.5"/>
<line x1="760.15" y1="245.60" x2="760.15" y2="254.90" stroke="#000" stroke-width="1.5"/>
<line x1="768.62" y1="848.30" x2="768.62" y2="839.00" stroke="#000" stroke-width="1.5"/>
<line x1="768.62" y1="245.60" x2="768.62" y2="254.90" stroke="#000" stroke-width="1.5"/>
<line x1="826.05" y1="848.30" x2="826.05" y2="839.00" stroke="#000" stroke-width="1.5"/>
<line x1="826.05" y1="245.60" x2="826.05" y2="254.90" stroke="#000" stroke-width="1.5"/>
<line x1="855.21" y1="848.30" x2="855.21" y2="839.00" stroke="#000" stroke-width="1.5"/>
<line x1="855.21" y1="245.60" x2="855.21" y2="254.90" stroke="#000" stroke-width="1.5"/>
<line x1="875.90" y1="848.30" x2="875.90" y2="839.00" stroke="#000" stroke-width="1.5"/>
<line x1="875.90" y1="245.60" x2="875.90" y2="254.90" stroke="#000" stroke-width="1.5"/>
<line x1="891.95" y1="848.30" x2="891.95" y2="839.00" stroke="#000" stroke-width="1.5"/>
<line x1="891.95" y1="245.60" x2="891.95" y2="254.90" stroke="#000" stroke-width="1.5"/>
<line x1="905.06" y1="848.30" x2="905.06" y2="839.00" stroke="#000" stroke-width="1.5"/>
<line x1="905.06" y1="245.60" x2="905.06" y2="254.90" stroke="#000" stroke-width="1.5"/>
<line x1="916.15" y1="848.30" x2="916.15" y2="839.00" stroke="#000" stroke-width="1.5"/>
<line x1="916.15" y1="245.60" x2="916.15" y2="254.90" stroke="#000" stroke-width="1.5"/>
<line x1="925.75" y1="848.30" x2="925.75" y2="839.00" stroke="#000" stroke-width="1.5"/>
<line x1="925.75" y1="245.60" x2="925.75" y2="254.90" stroke="#000" stroke-width="1.5"/>
<line x1="126.30" y1="757.50" x2="144.90" y2="757.50" stroke="#000" stroke-width="2.0"/>
<line x1="930.50" y1="757.50" x2="911.90" y2="757.50" stroke="#000" stroke-width="2.0"/>
<line x1="126.30" y1="524.05" x2="144.90" y2="524.05" stroke="#000" stroke-width="2.0"/>
<line x1="930.50" y1="524.05" x2="911.90" y2="524.05" stroke="#000" stroke-width="2.0"/>
<line x1="126.30" y1="290.60" x2="144.90" y2="290.60" stroke="#000" stroke-width="2.0"/>
<line x1="930.50" y1="290.60" x2="911.90" y2="290.60" stroke="#000" stroke-width="2.0"/>
<line x1="126.30" y1="827.78" x2="135.60" y2="827.78" stroke="#000" stroke-width="1.5"/>
<line x1="930.50" y1="827.78" x2="921.20" y2="827.78" stroke="#000" stroke-width="1.5"/>
<line x1="126.30" y1="809.29" x2="135.60" y2="809.29" stroke="#000" stroke-width="1.5"/>
<line x1="930.50" y1="809.29" x2="921.20" y2="809.29" stroke="#000" stroke-width="1.5"/>
<line x1="126.30" y1="793.66" x2="135.60" y2="793.66" stroke="#000" stroke-width="1.5"/>
<line x1="930.50" y1="793.66" x2="921.20" y2="793.66" stroke="#000" stroke-width="1.5"/>
<line x1="126.30" y1="780.12" x2="135.60" y2="780.12" stroke="#000" stroke-width="1.5"/>
<line x1="930.50" y1="780.12" x2="921.20" y2="780.12" stroke="#000" stroke-width="1.5"/>
<line x1="126.30" y1="768.18" x2="135.60" y2="768.18" stroke="#000" stroke-width="1.5"/>
<line x1="930.50" y1="768.18" x2="921.20" y2="768.18" stroke="#000" stroke-width="1.5"/>
<line x1="126.30" y1="687.22" x2="135.60" y2="687.22" stroke="#000" stroke-width="1.5"/>
<line x1="930.50" y1="687.22" x2="921.20" y2="687.22" stroke="#000" stroke-width="1.5"/>
<line x1="126.30" y1="646.12" x2="135.60" y2="646.12" stroke="#000" stroke-width="1.5"/>
<line x1="930.50" y1="646.12" x2="921.20" y2="646.12" stroke="#000" stroke-width="1.5"/>
<line x1="126.30" y1="616.95" x2="135.60" y2="616.95" stroke="#000" stroke-width="1.5"/>
<line x1="930.50" y1="616.95" x2="921.20" y2="616.95" stroke="#000" stroke-width="1.5"/>
<line x1="126.30" y1="594.33" x2="135.60" y2="594.33" stroke="#000" stroke-width="1.5"/>
<line x1="930.50" y1="594.33" x2="921.20" y2="594.33" stroke="#000" stroke-width="1.5"/>
<line x1="126.30" y1="575.84" x2="135.60" y2="575.84" stroke="#000" stroke-width="1.5"/>
<line x1="930.50" y1="575.84" x2="921.20" y2="575.84" stroke="#000" stroke-width="1.5"/>
<line x1="126.30" y1="560.21" x2="135.60" y2="560.21" stroke="#000" stroke-width="1.5"/>
<line x1="930.50" y1="560.21" x2="921.20" y2="560.21" stroke="#000" stroke-width="1.5"/>
<line x1="126.30" y1="546.67" x2="135.60" y2="546.67" stroke="#000" stroke-width="1.5"/>
<line x1="930.50" y1="546.67" x2="921.20" y2="546.67" stroke="#000" stroke-width="1.5"/>
<line x1="126.30" y1="534.73" x2="135.60" y2="534.73" stroke="#000" stroke-width="1.5"/>
<line x1="930.50" y1="534.73" x2="921.20" y2="534.73" stroke="#000" stroke-width="1.5"/>
<line x1="126.30" y1="453.77" x2="135.60" y2="453.77" stroke="#000" stroke-width="1.5"/>
<line x1="930.50" y1="453.77" x2="921.20" y2="453.77" stroke="#000" stroke-width="1.5"/>
<line x1="126.30" y1="412.67" x2="135.60" y2="412.67" stroke="#000" stroke-width="1.5"/>
<line x1="930.50" y1="412.67" x2="921.20" y2="412.67" stroke="#000" stroke-width="1.5"/>
<line x1="126.30" y1="383.50" x2="135.60" y2="383.50" stroke="#000" stroke-width="1.5"/>
<line x1="930.50" y1="383.50" x2="921.20" y2="383.50" stroke="#000" stroke-width="1.5"/>
<line x1="126.30" y1="360.88" x2="135.60" y2="360.88" stroke="#000" stroke-width="1.5"/>
<line x1="930.50" y1="360.88" x2="921.20" y2="360.88" stroke="#000" stroke-width="1.5"/>
<line x1="126.30" y1="342.39" x2="135.60" y2="342.39" stroke="#000" stroke-width="1.5"/>
<line x1="930.50" y1="342.39" x2="921.20" y2="342.39" stroke="#000" stroke-width="1.5"/>
<line x1="126.30" y1="326.76" x2="135.60" y2="326.76" stroke="#000" stroke-width="1.5"/>
<line x1="930.50" y1="326.76" x2="921.20" y2="326.76" stroke="#000" stroke-width="1.5"/>
<line x1="126.30" y1="313.22" x2="135.60" y2="313.22" stroke="#000" stroke-width="1.5"/>
<line x1="930.50" y1="313.22" x2="921.20" y2="313.22" stroke="#000" stroke-width="1.5"/>
<line x1="126.30" y1="301.28" x2="135.60" y2="301.28" stroke="#000" stroke-width="1.5"/>
<line x1="930.50" y1="301.28" x2="921.20" y2="301.28" stroke="#000" stroke-width="1.5"/>
<rect x="126.30" y="245.60" width="804.20" height="602.70" fill="none" stroke="#000" stroke-width="2.0"/>
<line x1="179.0" y1="748.0" x2="213.5" y2="748.0" stroke="#000" stroke-width="3.5" stroke-dasharray="14.25 6.66"/>
</g>
<g id="labels">
<text transform="translate(246.04,878.00) scale(1,1.03)" font-size="28.8" fill="#000">10</text>
<text x="283.39" y="867.20" font-size="20.6" fill="#000">−2</text>
<text transform="translate(411.64,878.00) scale(1,1.03)" font-size="28.8" fill="#000">10</text>
<text x="448.99" y="867.20" font-size="20.6" fill="#000">−1</text>
<text transform="translate(585.88,878.00) scale(1,1.03)" font-size="28.8" fill="#000">10</text>
<text x="623.22" y="867.20" font-size="20.6" fill="#000">0</text>
<text transform="translate(751.48,878.00) scale(1,1.03)" font-size="28.8" fill="#000">10</text>
<text x="788.82" y="867.20" font-size="20.6" fill="#000">1</text>
<text transform="translate(69.80,300.80) scale(1,1.03)" font-size="28.8" fill="#000">10</text>
<text x="107.15" y="290.00" font-size="20.6" fill="#000">2</text>
<text transform="translate(69.80,534.25) scale(1,1.03)" font-size="28.8" fill="#000">10</text>
<text x="107.15" y="523.45" font-size="20.6" fill="#000">1</text>
<text transform="translate(69.80,767.70) scale(1,1.03)" font-size="28.8" fill="#000">10</text>
<text x="107.15" y="756.90" font-size="20.6" fill="#000">0</text>
<text transform="translate(72.05,101.95) scale(1,1.03)" font-size="28.8" fill="#000">0.2</text>
<text transform="translate(72.05,217.65) scale(1,1.03)" font-size="28.8" fill="#000">0.0</text>
<text transform="translate(952.40,878.20) scale(1,1.03)" font-size="28.8" fill="#000">0.0</text>
<text transform="translate(1091.70,878.20) scale(1,1.03)" font-size="28.8" fill="#000">0.2</text>
<text x="1039.76" y="920.10" font-size="34.6" fill="#000">PDF</text>
<text transform="translate(46.40,147.70) rotate(-90)" font-size="34.6" fill="#000">PDF</text>
<text x="509.70" y="921.30" font-size="35.4" fill="#000">β</text>
<text x="532.50" y="926.60" font-size="24.22" fill="#000">p</text>
<text transform="translate(38.30,602.40) rotate(-90)" font-size="34.6" fill="#000">E</text>
<text transform="translate(24.65,579.90) rotate(-90)" font-size="24.22" fill="#000">B</text>
<text transform="translate(47.70,575.91) rotate(-90)" font-size="21.3" fill="#000">⊥</text>
<text transform="translate(38.30,552.60) rotate(-90)" font-size="34.6" fill="#000">/</text>
<text transform="translate(38.30,529.50) rotate(-90)" font-size="34.6" fill="#000">E</text>
<text transform="translate(24.65,507.30) rotate(-90)" font-size="24.22" fill="#000">B</text>
<text transform="translate(47.70,502.60) rotate(-90)" font-size="24.22" fill="#000">∥</text>
<text x="528.80" y="341.70" font-size="37.1" fill="#000">LMBL</text>
<text x="721.40" y="473.90" font-size="37.1" fill="#0000ff" letter-spacing="0.2">Streamer</text>
<text x="279.10" y="658.30" font-size="37.1" fill="#ff0000">CH</text>
<text x="223.65" y="764.00" font-size="37.1" fill="#000">β</text>
<text x="247.80" y="774.10" font-size="25.95" fill="#000">p</text>
<text x="248.20" y="749.80" font-size="25.95" fill="#000">−0.42±0.01</text>
</g>
</svg>
</body>
</html>
